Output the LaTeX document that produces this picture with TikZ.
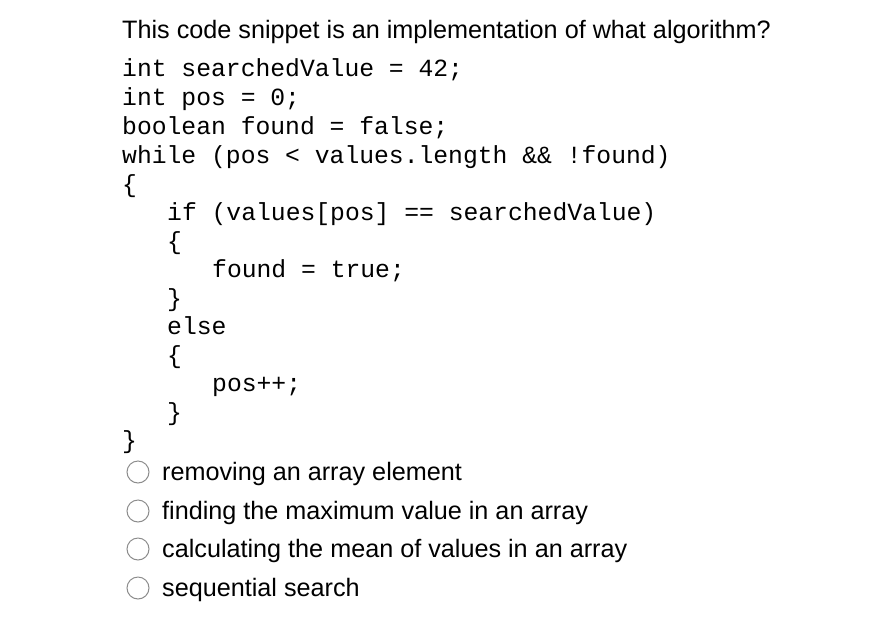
\documentclass[tikz,border=0pt]{standalone}
\usepackage{fontspec}
\setmainfont{Liberation Sans}
\setmonofont{Liberation Mono}
\begin{document}
\begin{tikzpicture}[x=1pt,y=-1pt,
  code/.style={anchor=base west,inner sep=0pt,font=\fontsize{24.7}{26}\ttfamily},
  txt/.style={anchor=base west,inner sep=0pt,font=\fontsize{25.2}{27}\selectfont},
  radio/.style={circle,draw=black!45,line width=1pt,minimum size=22pt,inner sep=0pt}]
\useasboundingbox (0,0) rectangle (896,635);
\node[txt] (t) at (122,38) {This code snippet is an implementation of what algorithm?};
\node[code] (c1) at (122,76) {int searchedValue = 42;};
\node[code] (c2) at (122,105) {int pos = 0;};
\node[code] (c3) at (122,134) {boolean found = false;};
\node[code] (c4) at (122,163) {while (pos < values.length \&\& !found)};
\node[code] (c5) at (122,192) {\{};
\node[code] (c6) at (167,220) {if (values[pos] == searchedValue)};
\node[code] (c7) at (167,249) {\{};
\node[code] (c8) at (212,277) {found = true;};
\node[code] (c9) at (167,306) {\}};
\node[code] (c10) at (167,334) {else};
\node[code] (c11) at (167,363) {\{};
\node[code] (c12) at (212,391) {pos++;};
\node[code] (c13) at (167,420) {\}};
\node[code] (c14) at (122,448) {\}};
\foreach \y/\s [count=\i] in {472/removing an array element,511/finding the maximum value in an array,549/calculating the mean of values in an array,588/sequential search}{
  \node[radio] (r\i) at (138,\y) {};
  \node[txt] (o\i) at (162,\y+8) {\s};
}
\end{tikzpicture}
\end{document}
